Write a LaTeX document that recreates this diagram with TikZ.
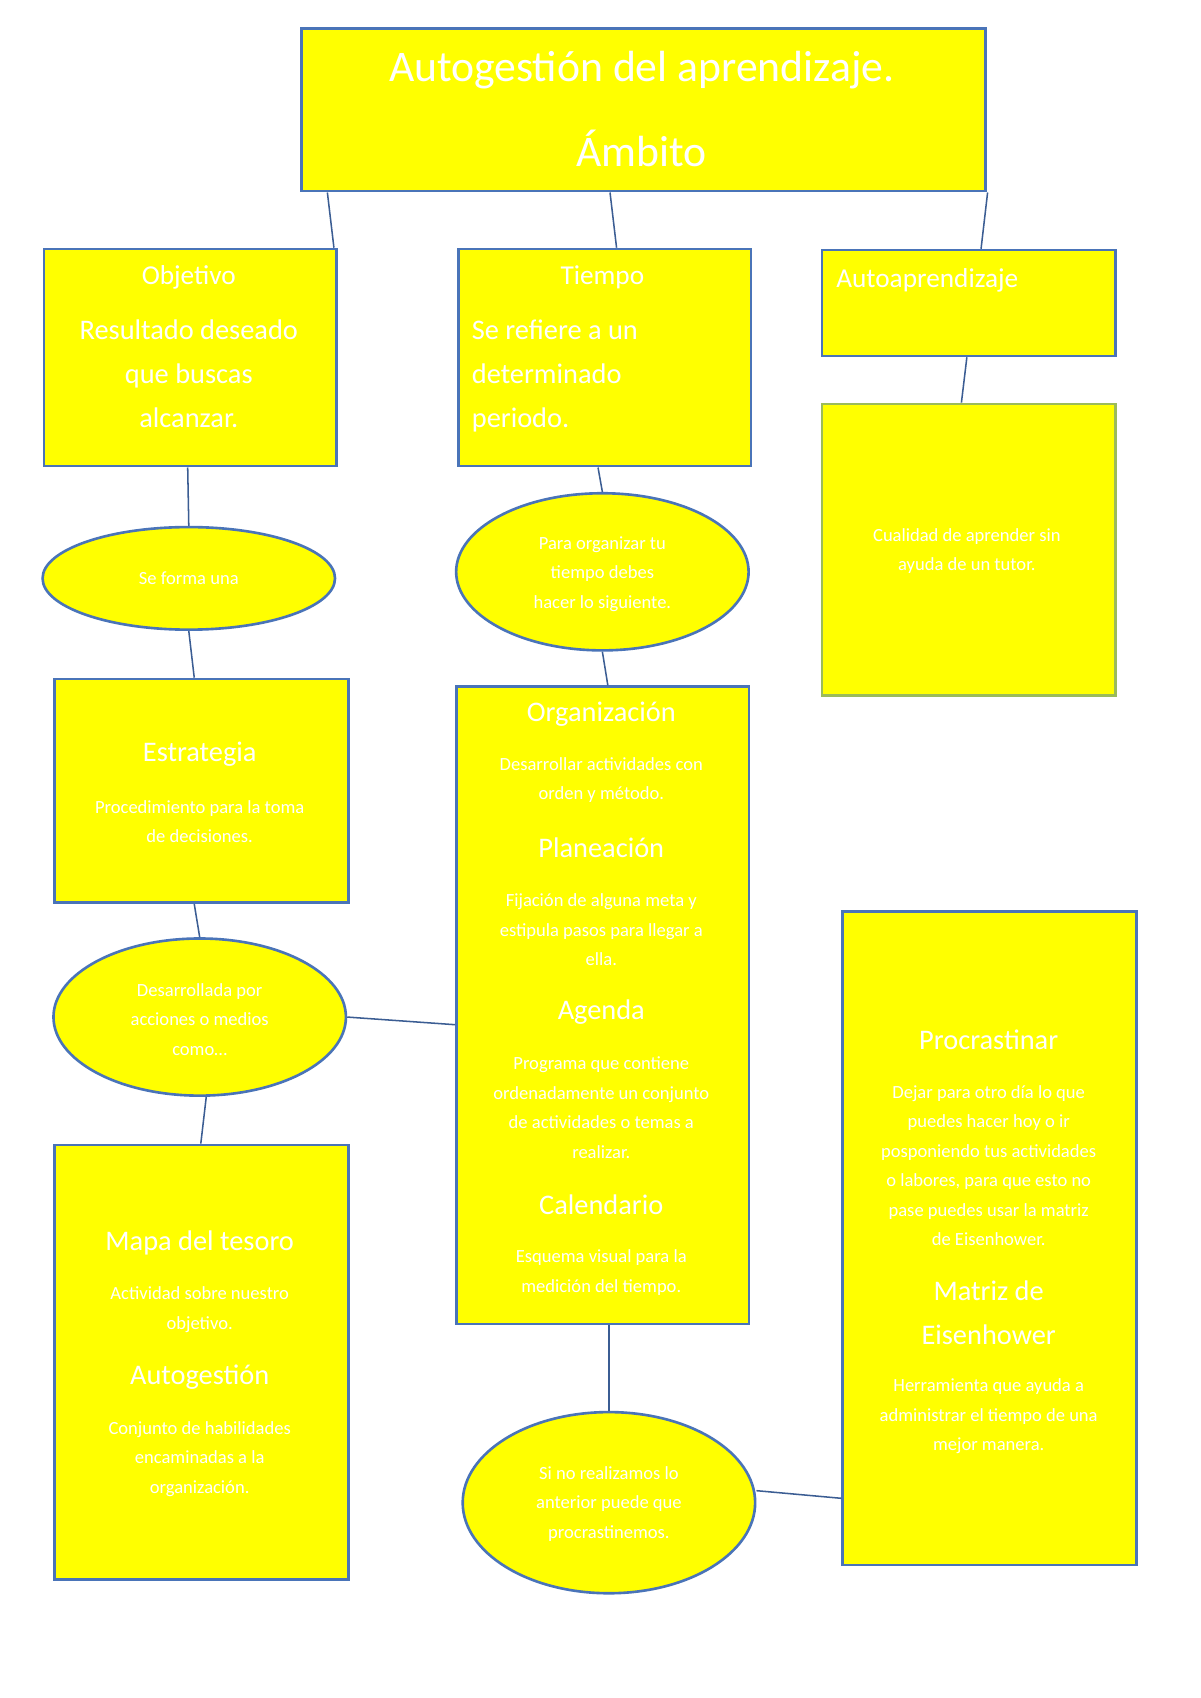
\documentclass[tikz,border=0pt]{standalone}
\usepackage{fontspec}
\setmainfont{Carlito}
\usetikzlibrary{shapes.geometric,calc}
\definecolor{yel}{HTML}{FFFF00}
\definecolor{bord}{HTML}{4A74B8}
\definecolor{gbord}{HTML}{9BBB59}
\tikzset{
 box/.style={draw=bord,fill=yel,line width=1.2pt,anchor=north west,inner sep=0},
 ell/.style={ellipse,draw=bord,fill=yel,line width=1.2pt,inner sep=0},
 txt/.style={text=white,align=center,inner sep=0},
 big/.style={font=\fontsize{20}{39}\selectfont},
 mid/.style={font=\fontsize{13}{20}\selectfont},
 sml/.style={font=\fontsize{8.5}{13.5}\selectfont},
 con/.style={draw=bord!80!black,line width=0.7pt}
}
\begin{document}
\begin{tikzpicture}[x=0.5pt,y=-0.5pt]
\useasboundingbox (0,0) rectangle (1100,1556);
\fill[white] (0,0) rectangle (1100,1556);
% boxes
\node[box,minimum width=313.5pt,minimum height=74.5pt] (title) at (275,25) {};
\node[box,minimum width=134pt,minimum height=99.5pt] (obj) at (39,227) {};
\node[box,minimum width=134pt,minimum height=99.5pt] (tie) at (419,227) {};
\node[box,minimum width=134.5pt,minimum height=48.5pt] (auto) at (752,228) {};
\node[box,draw=gbord,minimum width=134.5pt,minimum height=133.5pt] (cual) at (752,369) {};
\node[box,minimum width=134.5pt,minimum height=102.5pt] (est) at (49,621) {};
\node[box,minimum width=134pt,minimum height=292pt] (org) at (417,628) {};
\node[box,minimum width=134.5pt,minimum height=199pt] (mapa) at (49,1048) {};
\node[box,minimum width=134.5pt,minimum height=299.5pt] (pro) at (771,834) {};
\node[ell,minimum width=134pt,minimum height=47pt] (e1) at (173,530) {};
\node[ell,minimum width=134pt,minimum height=72pt] (e2) at (552,524) {};
\node[ell,minimum width=134pt,minimum height=72pt] (e3) at (183,932) {};
\node[ell,minimum width=134pt,minimum height=83pt] (e4) at (558,1377) {};
% connectors
\draw[con] ($(title.south west)+(25,0)$) -- ($(obj.north west)+(267,0)$);
\draw[con] ($(title.south west)+(284,0)$) -- ($(tie.north west)+(146,0)$);
\draw[con] ($(title.south west)+(630,0)$) -- ($(auto.north west)+(147,0)$);
\draw[con] ($(auto.south west)+(134,0)$) -- ($(cual.north west)+(129,0)$);
\draw[con] ($(obj.south west)+(133,0)$) -- (e1.north);
\draw[con] (e1.south) -- ($(est.north west)+(129,0)$);
\draw[con] ($(tie.south west)+(129,0)$) -- (e2.north);
\draw[con] (e2.south) -- ($(org.north west)+(140,0)$);
\draw[con] ($(est.south west)+(129,0)$) -- (e3.north);
\draw[con] (e3.east) -- ($(org.north west)+(0,311)$);
\draw[con] ($(e3.south)+(6,0)$) -- ($(mapa.north west)+(135,0)$);
\draw[con] ($(org.south west)+(141,0)$) -- (e4.north);
\draw[con] ($(e4.east)+(0,-11)$) -- ($(pro.north west)+(0,539)$);
% texts
\node[txt,big] at (588,100) {Autogestión del aprendizaje.\\Ámbito};
\node[txt,font=\fontsize{12.5}{12.5}\selectfont] at (173,254) {Objetivo};
\node[txt,mid,anchor=north] at (173,293) {Resultado deseado\\que buscas\\alcanzar.};
\node[txt,font=\fontsize{12.5}{12.5}\selectfont] at (552,254) {Tiempo};
\node[txt,mid,anchor=north west,align=left] at (432,293) {Se refiere a un\\determinado\\periodo.};
\node[txt,font=\fontsize{12.5}{12.5}\selectfont,anchor=west] at (766,257) {Autoaprendizaje};
\node[txt,sml] at (886,505) {Cualidad de aprender sin\\ayuda de un tutor.};
\node[txt,sml] at (173,530) {Se forma una};
\node[txt,sml] at (552,526) {Para organizar tu\\tiempo debes\\hacer lo siguiente.};
\node[txt,mid] at (183,691) {Estrategia};
\node[txt,sml] at (183,753) {Procedimiento para la toma\\de decisiones.};
\node[txt,sml] at (183,934) {Desarrollada por\\acciones o medios\\como…};
\node[txt,mid] at (551,654) {Organización};
\node[txt,sml] at (551,715) {Desarrollar actividades con\\orden y método.};
\node[txt,mid] at (551,777) {Planeación};
\node[txt,sml] at (551,852) {Fijación de alguna meta y\\estipula pasos para llegar a\\ella.};
\node[txt,mid] at (551,927) {Agenda};
\node[txt,sml] at (551,1015) {Programa que contiene\\ordenadamente un conjunto\\de actividades o temas a\\realizar.};
\node[txt,mid] at (551,1104) {Calendario};
\node[txt,sml] at (551,1166) {Esquema visual para la\\medición del tiempo.};
\node[txt,mid] at (183,1139) {Mapa del tesoro};
\node[txt,sml] at (183,1200) {Actividad sobre nuestro\\objetivo.};
\node[txt,mid] at (183,1262) {Autogestión};
\node[txt,sml] at (183,1337) {Conjunto de habilidades\\encaminadas a la\\organización.};
\node[txt,sml] at (558,1378) {Si no realizamos lo\\anterior puede que\\procrastinemos.};
\node[txt,mid] at (906,953) {Procrastinar};
\node[txt,sml] at (906,1068) {Dejar para otro día lo que\\puedes hacer hoy o ir\\posponiendo tus actividades\\o labores, para que esto no\\pase puedes usar la matriz\\de Eisenhower.};
\node[txt,mid] at (906,1203) {Matriz de\\Eisenhower};
\node[txt,sml] at (906,1298) {Herramienta que ayuda a\\administrar el tiempo de una\\mejor manera.};
\end{tikzpicture}
\end{document}
